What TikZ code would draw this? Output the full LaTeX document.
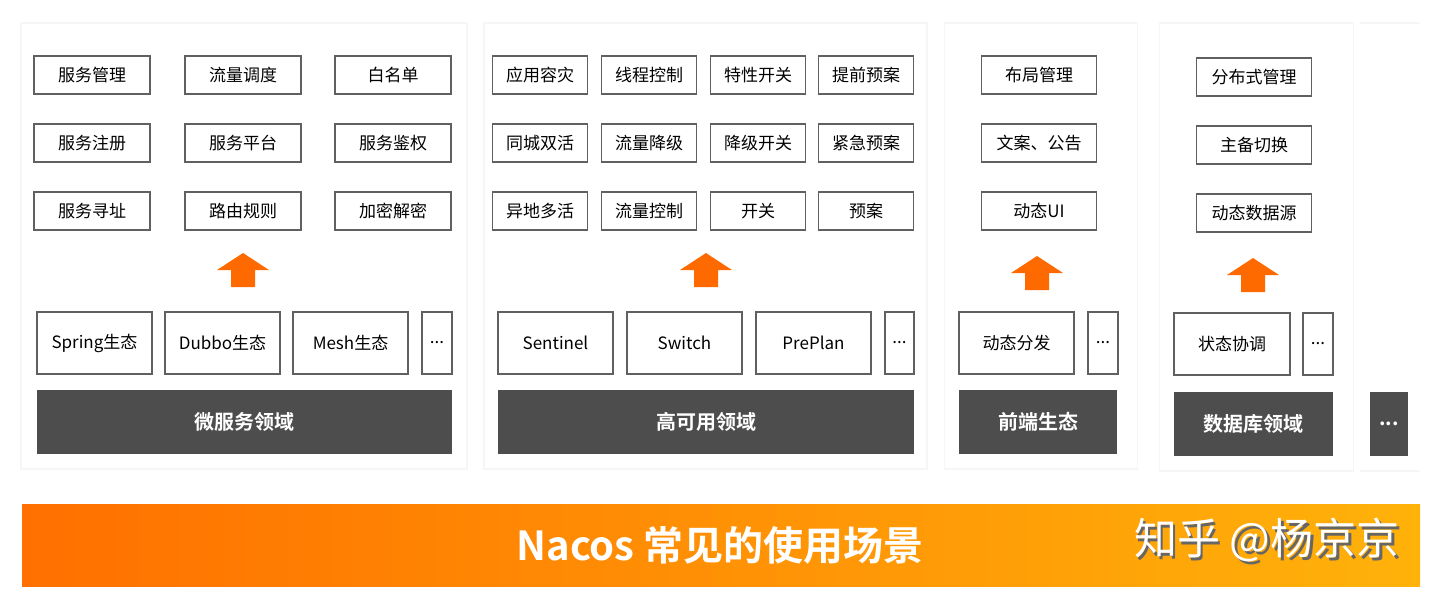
\documentclass[tikz,border=0pt]{standalone}
\usepackage{fontspec}
\setmainfont{Noto Sans CJK SC}
\newfontfamily\cjkb{Noto Sans CJK SC Bold}
\usetikzlibrary{shadows}
\definecolor{bord}{HTML}{606060}
\definecolor{dark}{HTML}{4D4D4D}
\definecolor{arr}{HTML}{FF6A00}
\newcommand{\mydots}{...}
\tikzset{
 x=0.5pt,y=-0.5pt,
 panel/.style={fill=white,draw=none,drop shadow={shadow xshift=0pt,shadow yshift=0pt,opacity=0.07,shadow scale=1.01}},
 bx/.style={draw=bord,line width=0.6pt,fill=white,font=\fontsize{8.5}{10}\selectfont},
 bar/.style={fill=dark,text=white,font=\cjkb\fontsize{10}{12}\selectfont},
 uparr/.style={fill=arr,draw=none}
}
\begin{document}
\begin{tikzpicture}
\fill[white] (0,0) rectangle (1440,601);
\useasboundingbox (0,0) rectangle (1440,601);
% panels
\fill[panel] (22,24) rectangle (466,468);
\fill[panel] (485,24) rectangle (926,468);
\fill[panel] (945,24) rectangle (1137,468);
\fill[panel] (1160,24) rectangle (1353,470);
\fill[panel] (1360,24) rectangle (1420,470);
% panel 1 grid
\foreach \n/\x/\y/\t in {a1/92/75/服务管理,a2/243/75/流量调度,a3/393/75/白名单,
 a4/92/143/服务注册,a5/243/143/服务平台,a6/393/143/服务鉴权,
 a7/92/211/服务寻址,a8/243/211/路由规则,a9/393/211/加密解密}
 {\node[bx,minimum width=58pt,minimum height=19pt,inner sep=0pt] (\n) at (\x,\y) {\t};}
% panel 2 grid
\foreach \n/\x/\y/\t in {b1/540/75/应用容灾,b2/649/75/线程控制,b3/758/75/特性开关,b4/866/75/提前预案,
 b5/540/143/同城双活,b6/649/143/流量降级,b7/758/143/降级开关,b8/866/143/紧急预案,
 b9/540/211/异地多活,b10/649/211/流量控制,b11/758/211/开关,b12/866/211/预案}
 {\node[bx,minimum width=47.5pt,minimum height=19pt,inner sep=0pt] (\n) at (\x,\y) {\t};}
% panel 3
\foreach \n/\y/\t in {c1/75/布局管理,c2/143/文案、公告,c3/211/动态UI}
 {\node[bx,minimum width=57.5pt,minimum height=19pt,inner sep=0pt] (\n) at (1039,\y) {\t};}
% panel 4
\foreach \n/\y/\t in {d1/77/分布式管理,d2/145/主备切换,d3/213/动态数据源}
 {\node[bx,minimum width=57.5pt,minimum height=19pt,inner sep=0pt] (\n) at (1254,\y) {\t};}
% arrows
\foreach \cx/\ty in {243/253,706/253,1037/256,1253/258}
 \fill[uparr] (\cx,\ty) -- (\cx+26,\ty+17) -- (\cx+12,\ty+17) -- (\cx+12,\ty+34) -- (\cx-12,\ty+34) -- (\cx-12,\ty+17) -- (\cx-26,\ty+17) -- cycle;
% bottom boxes
\foreach \n/\x/\w/\t in {e1/94.5/57.5/Spring生态,e2/222.5/57.5/Dubbo生态,e3/350.5/57.5/Mesh生态,e4/437/15/\mydots,
 f1/555.5/57.5/Sentinel,f2/684.5/57.5/Switch,f3/813.5/57.5/PrePlan,f4/899.5/14.5/\mydots,
 g1/1016.5/57.5/动态分发,g2/1103/15/\mydots}
 {\node[bx,minimum width=\w pt,minimum height=31pt,inner sep=0pt] (\n) at (\x,343) {\t};}
\node[bx,minimum width=58pt,minimum height=31pt,inner sep=0pt] (h1) at (1232,344) {状态协调};
\node[bx,minimum width=15pt,minimum height=31pt,inner sep=0pt] (h2) at (1318,344) {\mydots};
% bars
\node[bar,minimum width=207.5pt,minimum height=32pt,inner sep=0pt] (s1) at (244.5,422) {微服务领域};
\node[bar,minimum width=208pt,minimum height=32pt,inner sep=0pt] (s2) at (706,422) {高可用领域};
\node[bar,minimum width=79pt,minimum height=32pt,inner sep=0pt] (s3) at (1038,422) {前端生态};
\node[bar,minimum width=79.5pt,minimum height=32pt,inner sep=0pt] (s4) at (1253.5,424) {数据库领域};
\node[bar,minimum width=19pt,minimum height=32pt,inner sep=0pt] (s5) at (1389,424) {\mydots};
% banner
\shade[left color={rgb,255:red,255;green,112;blue,0},right color={rgb,255:red,255;green,178;blue,10}] (22,504) rectangle (1420,586);
\node[text=white,font=\cjkb\fontsize{20}{24}\selectfont] (ban) at (720,545) {Nacos 常见的使用场景};
\node[text=black!60,font=\fontsize{21.5}{25}\selectfont] (wms) at (1269.5,542.5) {知乎 @杨京京};
\node[text=white,font=\fontsize{21.5}{25}\selectfont] (wm) at (1267,540) {知乎 @杨京京};
\end{tikzpicture}
\end{document}
